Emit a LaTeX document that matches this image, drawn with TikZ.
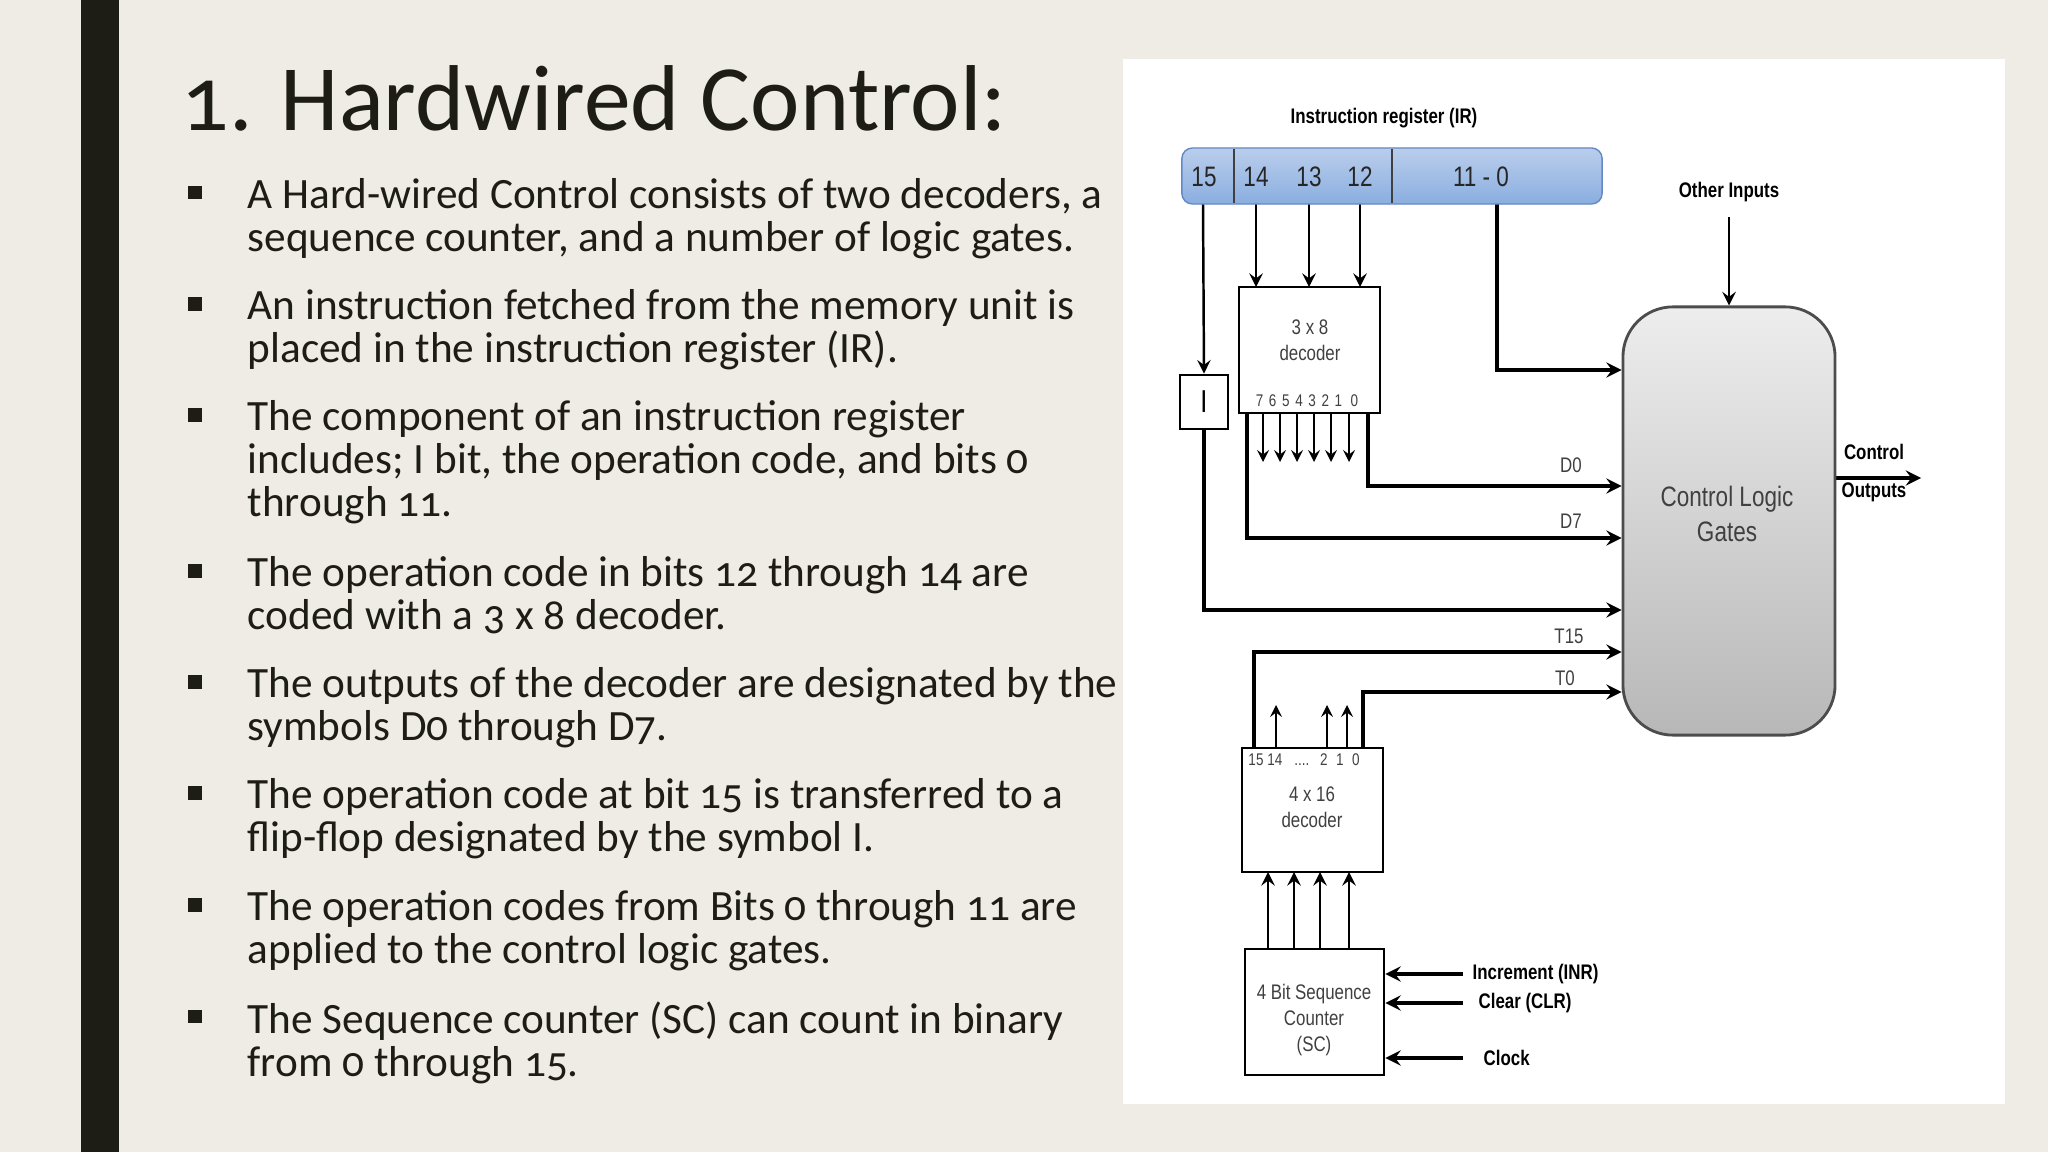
\documentclass[tikz,border=0pt]{standalone}
\usepackage{fontspec}
\setmainfont{Carlito}[Numbers=OldStyle]
\setsansfont{Liberation Sans}[FakeStretch=0.8]
\usetikzlibrary{arrows,positioning,shapes.geometric}
\pgfdeclarelayer{slidelayer}
\pgfdeclarelayer{edgelayer}
\pgfdeclarelayer{nodelayer}
\pgfsetlayers{slidelayer,edgelayer,nodelayer,main}
\definecolor{slidebg}{RGB}{239,235,229}
\definecolor{barc}{RGB}{29,29,22}
\definecolor{irtop}{RGB}{186,206,236}
\definecolor{irbot}{RGB}{138,174,224}
\definecolor{irline}{RGB}{100,136,196}
\tikzstyle{none}=[inner sep=0pt]
\tikzstyle{lbl}=[inner sep=0pt,font=\sffamily\fontsize{6}{7.5}\selectfont,text=black!75]
\tikzstyle{blbl}=[inner sep=0pt,font=\sffamily\bfseries\fontsize{6}{7}\selectfont]
\tikzstyle{bit}=[inner sep=0pt,font=\sffamily\fontsize{8}{9}\selectfont,text=black!85]
\tikzstyle{block}=[rectangle,draw=black,line width=0.8pt,fill=white]
\tikzstyle{wire}=[->, >=stealth, line width=0.7pt]
\tikzstyle{heavy}=[->, >=stealth, line width=0.9pt]
\tikzstyle{simple}=[-, line width=0.7pt]
\tikzstyle{bullet}=[anchor=west,inner sep=0pt,font=\fontsize{12.3}{12.2}\selectfont,align=left,text=barc]
\tikzstyle{sq}=[rectangle,fill=barc,minimum size=0.13cm,inner sep=0pt]

\begin{document}
\begin{tikzpicture}[x=0.01cm,y=-0.01cm]
	\useasboundingbox (0,0) rectangle (2048,1152);
	\begin{pgfonlayer}{slidelayer}
		\fill [slidebg] (0,0) rectangle (2048,1152);
		\fill [barc] (81,0) rectangle (119,1152);
		\fill [white] (1123,59) rectangle (2005,1104);
	\end{pgfonlayer}
	\begin{pgfonlayer}{nodelayer}
		% slide text
		\node [anchor=base west,inner sep=0pt,text=barc,font=\fontsize{26.6}{30}\selectfont] (title) at (181,131) {1. Hardwired Control:};
		\foreach \y/\t in {193/{A Hard-wired Control consists of two decoders, a\\sequence counter, and a number of logic gates.},
			304/{An instruction fetched from the memory unit is\\placed in the instruction register (IR).},
			415/{The component of an instruction register\\includes; I bit, the operation code, and bits 0\\through 11.},
			571/{The operation code in bits 12 through 14 are\\coded with a 3 x 8 decoder.},
			682/{The outputs of the decoder are designated by the\\symbols D0 through D7.},
			793/{The operation code at bit 15 is transferred to a\\flip-flop designated by the symbol I.},
			905/{The operation codes from Bits 0 through 11 are\\applied to the control logic gates.},
			1016/{The Sequence counter (SC) can count in binary\\from 0 through 15.}}
		{
			\node [sq] at (195,\y) {};
			\node [bullet,anchor=north west] at (247,\y-15) {\t};
		}
		% instruction register
		\node [blbl] (IRl) at (1384,118) {Instruction register (IR)};
		\node [rectangle,rounded corners=3pt,draw=irline,top color=irtop,bottom color=irbot,minimum width=4.2cm,minimum height=0.56cm] (IR) at (1392,176) {};
		\draw [line width=0.7pt,draw=black!75] (1234,149) -- (1234,203) (1392,149) -- (1392,203);
		\node [bit] (b15) at (1204,177) {15};
		\node [bit] (b14) at (1256,177) {14};
		\node [bit] (b13) at (1309,177) {13};
		\node [bit] (b12) at (1360,177) {12};
		\node [bit] (b110) at (1481,177) {11 - 0};
		\node [none] (s15) at (1203,204) {};
		\node [none] (s14) at (1256,204) {};
		\node [none] (s13) at (1309,204) {};
		\node [none] (s12) at (1360,204) {};
		\node [none] (s110) at (1497,204) {};
		% 3x8 decoder
		\node [block,minimum width=1.41cm,minimum height=1.26cm] (dec) at (1309.5,350) {};
		\node [lbl,align=center] (decl) at (1310,340) {3 x 8\\decoder};
		\node [lbl,font=\sffamily\fontsize{4.8}{5}\selectfont] (decout) at (1307,401) {7\,\,6\,\,5\,\,4\,\,3\,\,2\,\,1\,\,\,0};
		\node [none] (e14) at (1256,287) {};
		\node [none] (e13) at (1309,287) {};
		\node [none] (e12) at (1360,287) {};
		\foreach \x [count=\i] in {1263,1280,1297,1314,1331,1349}
		{
			\node [none] (o\i) at (\x,413) {};
			\node [none] (p\i) at (\x,462) {};
		}
		\node [none] (d7a) at (1247,413) {};
		\node [none] (d7b) at (1247,538) {};
		\node [none] (d0a) at (1368,413) {};
		\node [none] (d0b) at (1368,486) {};
		\node [lbl] (D0) at (1571,465) {D0};
		\node [lbl] (D7) at (1571,521) {D7};
		% I flip-flop
		\node [block,minimum width=0.48cm,minimum height=0.54cm,font=\sffamily\fontsize{9}{9}\selectfont] (I) at (1204,402) {I};
		\node [none] (ib) at (1204,610) {};
		\node [none] (ia) at (1497,370) {};
		% control logic gates
		\node [rectangle,rounded corners=0.5cm,draw=black!70,line width=0.8pt,top color=black!7,bottom color=black!28,minimum width=2.12cm,minimum height=4.28cm] (CLG) at (1729,521) {};
		\node [none,align=center,font=\sffamily\fontsize{8}{10}\selectfont,text=black!75] (CLGl) at (1727,514) {Control Logic\\Gates};
		\node [blbl] (oth) at (1729,192) {Other Inputs};
		\node [none] (otha) at (1729,217) {};
		\node [none] (out) at (1921,478) {};
		\node [blbl] (ctl) at (1874,452) {Control};
		\node [blbl] (ctl2) at (1874,492) {Outputs};
		% 4x16 decoder
		\node [block,minimum width=1.41cm,minimum height=1.24cm] (dec2) at (1312.5,810) {};
		\node [lbl,align=center] (dec2l) at (1312,807) {4 x 16\\decoder};
		\node [lbl,font=\sffamily\fontsize{4.8}{5}\selectfont] (dec2out) at (1304,760) {15 14\,\,\, .... \,\,2\,\,\,1\,\,\,0};
		\node [none] (t15a) at (1254,748) {};
		\node [none] (t15b) at (1254,652) {};
		\node [none] (t0a) at (1363,748) {};
		\node [none] (t0b) at (1363,692) {};
		\node [lbl] (T15) at (1569,636) {T15};
		\node [lbl] (T0) at (1565,678) {T0};
		\foreach \x [count=\i] in {1276,1327,1347}
		{
			\node [none] (u\i) at (\x,748) {};
			\node [none] (v\i) at (\x,705) {};
		}
		% sequence counter
		\node [block,minimum width=1.39cm,minimum height=1.26cm] (SC) at (1314.5,1012) {};
		\node [lbl,align=center] (SCl) at (1314,1020) {4 Bit Sequence\\Counter\\(SC)};
		\foreach \x [count=\i] in {1268,1294,1320,1349}
		{
			\node [none] (q\i) at (\x,949) {};
			\node [none] (r\i) at (\x,872) {};
		}
		\node [none] (inr) at (1463,974) {};
		\node [none] (clr) at (1463,1003) {};
		\node [none] (clk) at (1463,1058) {};
		\node [blbl,anchor=west] (inrl) at (1472,974) {Increment (INR)};
		\node [blbl,anchor=west] (clrl) at (1478,1003) {Clear (CLR)};
		\node [blbl,anchor=west] (clkl) at (1483,1058) {Clock};
		\node [none] (ck1) at (1384,1048) {};
		\node [none] (ck2) at (1373,1058) {};
		\node [none] (ck3) at (1384,1068) {};
	\end{pgfonlayer}
	\begin{pgfonlayer}{edgelayer}
		\draw [style=wire] (s14.center) to (e14.center);
		\draw [style=wire] (s13.center) to (e13.center);
		\draw [style=wire] (s12.center) to (e12.center);
		\draw [style=wire] (s15.center) to (I.north);
		\draw [style=heavy] (I.south) to (ib.center) to (ib.center -| CLG.west);
		\draw [style=heavy] (s110.center) to (ia.center) to (ia.center -| CLG.west);
		\foreach \i in {1,...,6}
			\draw [style=wire,line width=0.5pt] (o\i.center) to (p\i.center);
		\draw [style=heavy] (d0a.center) to (d0b.center) to (d0b.center -| CLG.west);
		\draw [style=heavy] (d7a.center) to (d7b.center) to (d7b.center -| CLG.west);
		\draw [style=wire] (otha.center) to (CLG.north);
		\draw [style=heavy] (CLG.east |- out.center) to (out.center);
		\draw [style=heavy] (t15a.center) to (t15b.center) to (t15b.center -| CLG.west);
		\draw [style=heavy] (t0a.center) to (t0b.center) to (t0b.center -| CLG.west);
		\foreach \i in {1,2,3}
			\draw [style=wire,line width=0.5pt] (u\i.center) to (v\i.center);
		\foreach \i in {1,...,4}
			\draw [style=wire] (q\i.center) to (r\i.center);
		\draw [style=heavy] (inr.center) to (inr.center -| SC.east);
		\draw [style=heavy] (clr.center) to (clr.center -| SC.east);
		\draw [style=heavy] (clk.center) to (clk.center -| SC.east);
		\draw [style=simple] (ck1.center) to (ck2.center) to (ck3.center);
	\end{pgfonlayer}
\end{tikzpicture}
\end{document}
